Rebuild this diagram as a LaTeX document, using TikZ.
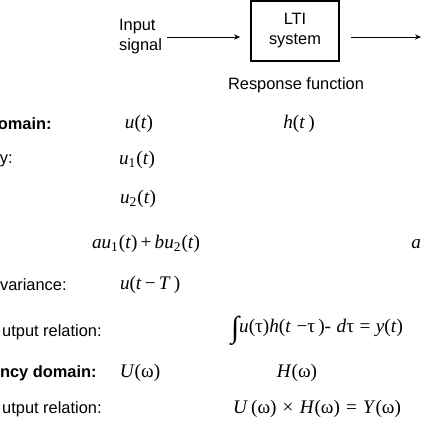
\documentclass[tikz,border=0pt]{standalone}
\usepackage{fontspec}
\setmainfont{Liberation Sans}
\newfontfamily\tmfont{Liberation Serif}
\newcommand{\vi}[1]{\textit{#1}}
\newcommand{\bigint}{\raisebox{-0.28em}{\fontsize{15}{15}\selectfont ∫}}
\usetikzlibrary{positioning,arrows.meta}

\begin{document}
\begin{tikzpicture}[
    x=0.5pt, y=-0.5pt,
    label/.style={inner sep=0pt, font=\fontsize{8.2}{10}\selectfont},
    head/.style={inner sep=0pt, font=\fontsize{8.2}{10}\selectfont\bfseries},
    term/.style={inner sep=0pt, font=\tmfont\fontsize{9.6}{11}\selectfont},
    block/.style={draw, line width=0.9pt, minimum width=44pt, minimum height=30pt, align=center, font=\fontsize{8.2}{10}\selectfont},
    edge/.style={-{Stealth[length=3pt,width=2.6pt]}, line width=0.35pt}
]
\useasboundingbox (0,0) rectangle (422,422);
\clip (0,0) rectangle (422,422);

% block diagram
\node[block] (lti) at (295,31) {LTI\\system};
\node[label, align=left] (input) at (140.5,37) {Input\\signal};
\node[label] (resp) at (296,85) {Response function};
\coordinate (output) at (421,37);

\draw[edge, shorten <=2.5pt, shorten >=5pt] (input.east) -- (input.east -| lti.west);
\draw[edge, shorten <=5.5pt] (input.east -| lti.east) -- (output);

% row labels (cut at the left edge)
\node[head, anchor=east] (timelab) at (52,124) {omain:};
\node[label, anchor=east] (linlab) at (13,161) {y:};
\node[label, anchor=east] (invlab) at (67,285) {variance:};
\node[label, anchor=east] (iolab) at (102,332) {utput relation:};
\node[head, anchor=east] (freqlab) at (97,373) {ncy domain:};
\node[label, anchor=east] (iolabf) at (102,409) {utput relation:};

% inputs
\node[term] (u) at (139,124) {\vi{u}(\vi{t})};
\node[term] (ua) at (137,160) {\vi{u}\textsubscript{1}(\vi{t})};
\node[term] (ub) at (138,199) {\vi{u}\textsubscript{2}(\vi{t})};
\node[term] (usum) at (142,244) {\makebox[50pt][s]{\vi{au}\textsubscript{1}(\vi{t}) + \vi{bu}\textsubscript{2}(\vi{t})}};
\node[term, anchor=west] (ysum) at (411,244) {\vi{a}};
\node[term] (ushift) at (147.5,285) {\makebox[27.5pt][s]{\vi{u}(\vi{t} − \vi{T}\,)}};
\node[term] (uw) at (140,373) {\vi{U}(ω)};

% response
\node[term] (h) at (299,124) {\vi{h}(\vi{t}\,)};
\node[term] (conv) at (317,331) {\makebox[86pt][s]{\bigint\vi{u}(τ)\vi{h}(\vi{t} −τ\,)- \vi{d}τ = \vi{y}(\vi{t})}};
\node[term] (hw) at (297,373) {\vi{H}(ω)};
\node[term] (prod) at (317,409) {\makebox[84pt][s]{\vi{U}\,(ω) × \vi{H}(ω) = \vi{Y}(ω)}};
\end{tikzpicture}
\end{document}
